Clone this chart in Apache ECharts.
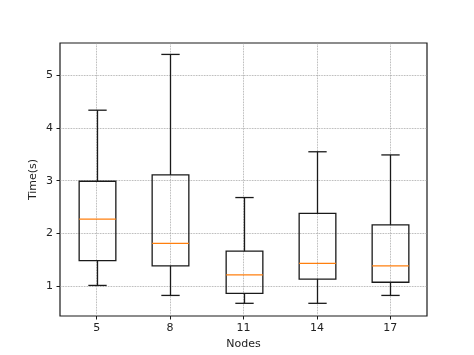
<!DOCTYPE html>
<html>
<head>
<meta charset="utf-8">
<script src="https://cdn.jsdelivr.net/npm/echarts@6/dist/echarts.min.js"></script>
<style>html,body{margin:0;padding:0;background:#fff}#c{width:474px;height:355px}</style>
</head>
<body>
<div id="c"></div>
<script>
var categories = ['5', '8', '11', '14', '17'];
var whiskerLow = [1.01, 0.82, 0.67, 0.67, 0.82];
var q1 = [1.48, 1.38, 0.86, 1.13, 1.07];
var median = [2.27, 1.81, 1.21, 1.43, 1.38];
var q3 = [2.99, 3.11, 1.66, 2.38, 2.16];
var whiskerHigh = [4.34, 5.40, 2.68, 3.55, 3.49];
var yTicks = [1, 2, 3, 4, 5];

var boxData = categories.map(function (c, i) {
  return [i, whiskerLow[i], q1[i], median[i], q3[i], whiskerHigh[i]];
});
var xTicks = categories.map(function (c, i) { return i; });

var chart = echarts.init(document.getElementById('c'), null, {renderer: 'canvas'});
var font = 'DejaVu Sans';
var lineColor = '#1a1a1a';

function renderItem(params, api) {
  var x = api.value(0);
  var unit = api.size([1, 0])[0];
  var halfBox = unit * 0.25;
  var halfCap = unit * 0.125;
  var pLow = api.coord([x, api.value(1)]);
  var pQ1 = api.coord([x, api.value(2)]);
  var pMed = api.coord([x, api.value(3)]);
  var pQ3 = api.coord([x, api.value(4)]);
  var pHigh = api.coord([x, api.value(5)]);
  var cx = Math.round(pQ1[0]) + 0.5;
  var st = {stroke: lineColor, lineWidth: 1.3, fill: null};
  return {
    type: 'group',
    children: [
      {type: 'line', shape: {x1: cx, y1: pLow[1], x2: cx, y2: pQ1[1]}, style: st},
      {type: 'line', shape: {x1: cx, y1: pQ3[1], x2: cx, y2: pHigh[1]}, style: st},
      {type: 'line', shape: {x1: cx - halfCap, y1: pLow[1], x2: cx + halfCap, y2: pLow[1]}, style: st},
      {type: 'line', shape: {x1: cx - halfCap, y1: pHigh[1], x2: cx + halfCap, y2: pHigh[1]}, style: st},
      {type: 'rect', shape: {x: cx - halfBox, y: pQ3[1], width: halfBox * 2, height: pQ1[1] - pQ3[1]}, style: {stroke: lineColor, lineWidth: 1.3, fill: 'rgba(0,0,0,0)'}},
      {type: 'line', shape: {x1: cx - halfBox, y1: pMed[1], x2: cx + halfBox, y2: pMed[1]}, style: {stroke: '#ff7f0e', lineWidth: 1.3}}
    ]
  };
}

chart.setOption({
  animation: false,
  backgroundColor: '#ffffff',
  grid: {left: 60, right: 47, top: 43, bottom: 39, show: true, borderColor: lineColor, borderWidth: 1.2, backgroundColor: 'transparent'},
  xAxis: {
    type: 'value', min: -0.5, max: 4.5,
    name: 'Nodes', nameLocation: 'middle', nameGap: 20,
    nameTextStyle: {fontFamily: font, fontSize: 11, color: '#222'},
    axisLine: {show: false, onZero: false},
    axisTick: {show: true, length: 3.5, customValues: xTicks, lineStyle: {color: lineColor}},
    axisLabel: {customValues: xTicks, margin: 7, fontFamily: font, fontSize: 11, color: '#222', formatter: function (v) { return categories[Math.round(v)]; }},
    splitLine: {show: true, lineStyle: {type: 'dotted', color: '#999', width: 0.8}}
  },
  yAxis: {
    type: 'value', min: 0.429, max: 5.617,
    name: 'Time(s)', nameLocation: 'middle', nameGap: 21, nameRotate: 90, nameMoveOverlap: false,
    nameTextStyle: {fontFamily: font, fontSize: 11, color: '#222'},
    axisLine: {show: false, onZero: false},
    axisTick: {show: true, length: 3.5, customValues: yTicks, lineStyle: {color: lineColor}},
    axisLabel: {customValues: yTicks, margin: 7, fontFamily: font, fontSize: 11, color: '#222', formatter: function (v) { return String(v); }},
    splitLine: {show: true, lineStyle: {type: 'dotted', color: '#999', width: 0.8}}
  },
  series: [{
    type: 'custom',
    renderItem: renderItem,
    encode: {x: 0, y: [1, 2, 3, 4, 5]},
    data: boxData,
    clip: false
  }]
});
</script>
</body>
</html>
